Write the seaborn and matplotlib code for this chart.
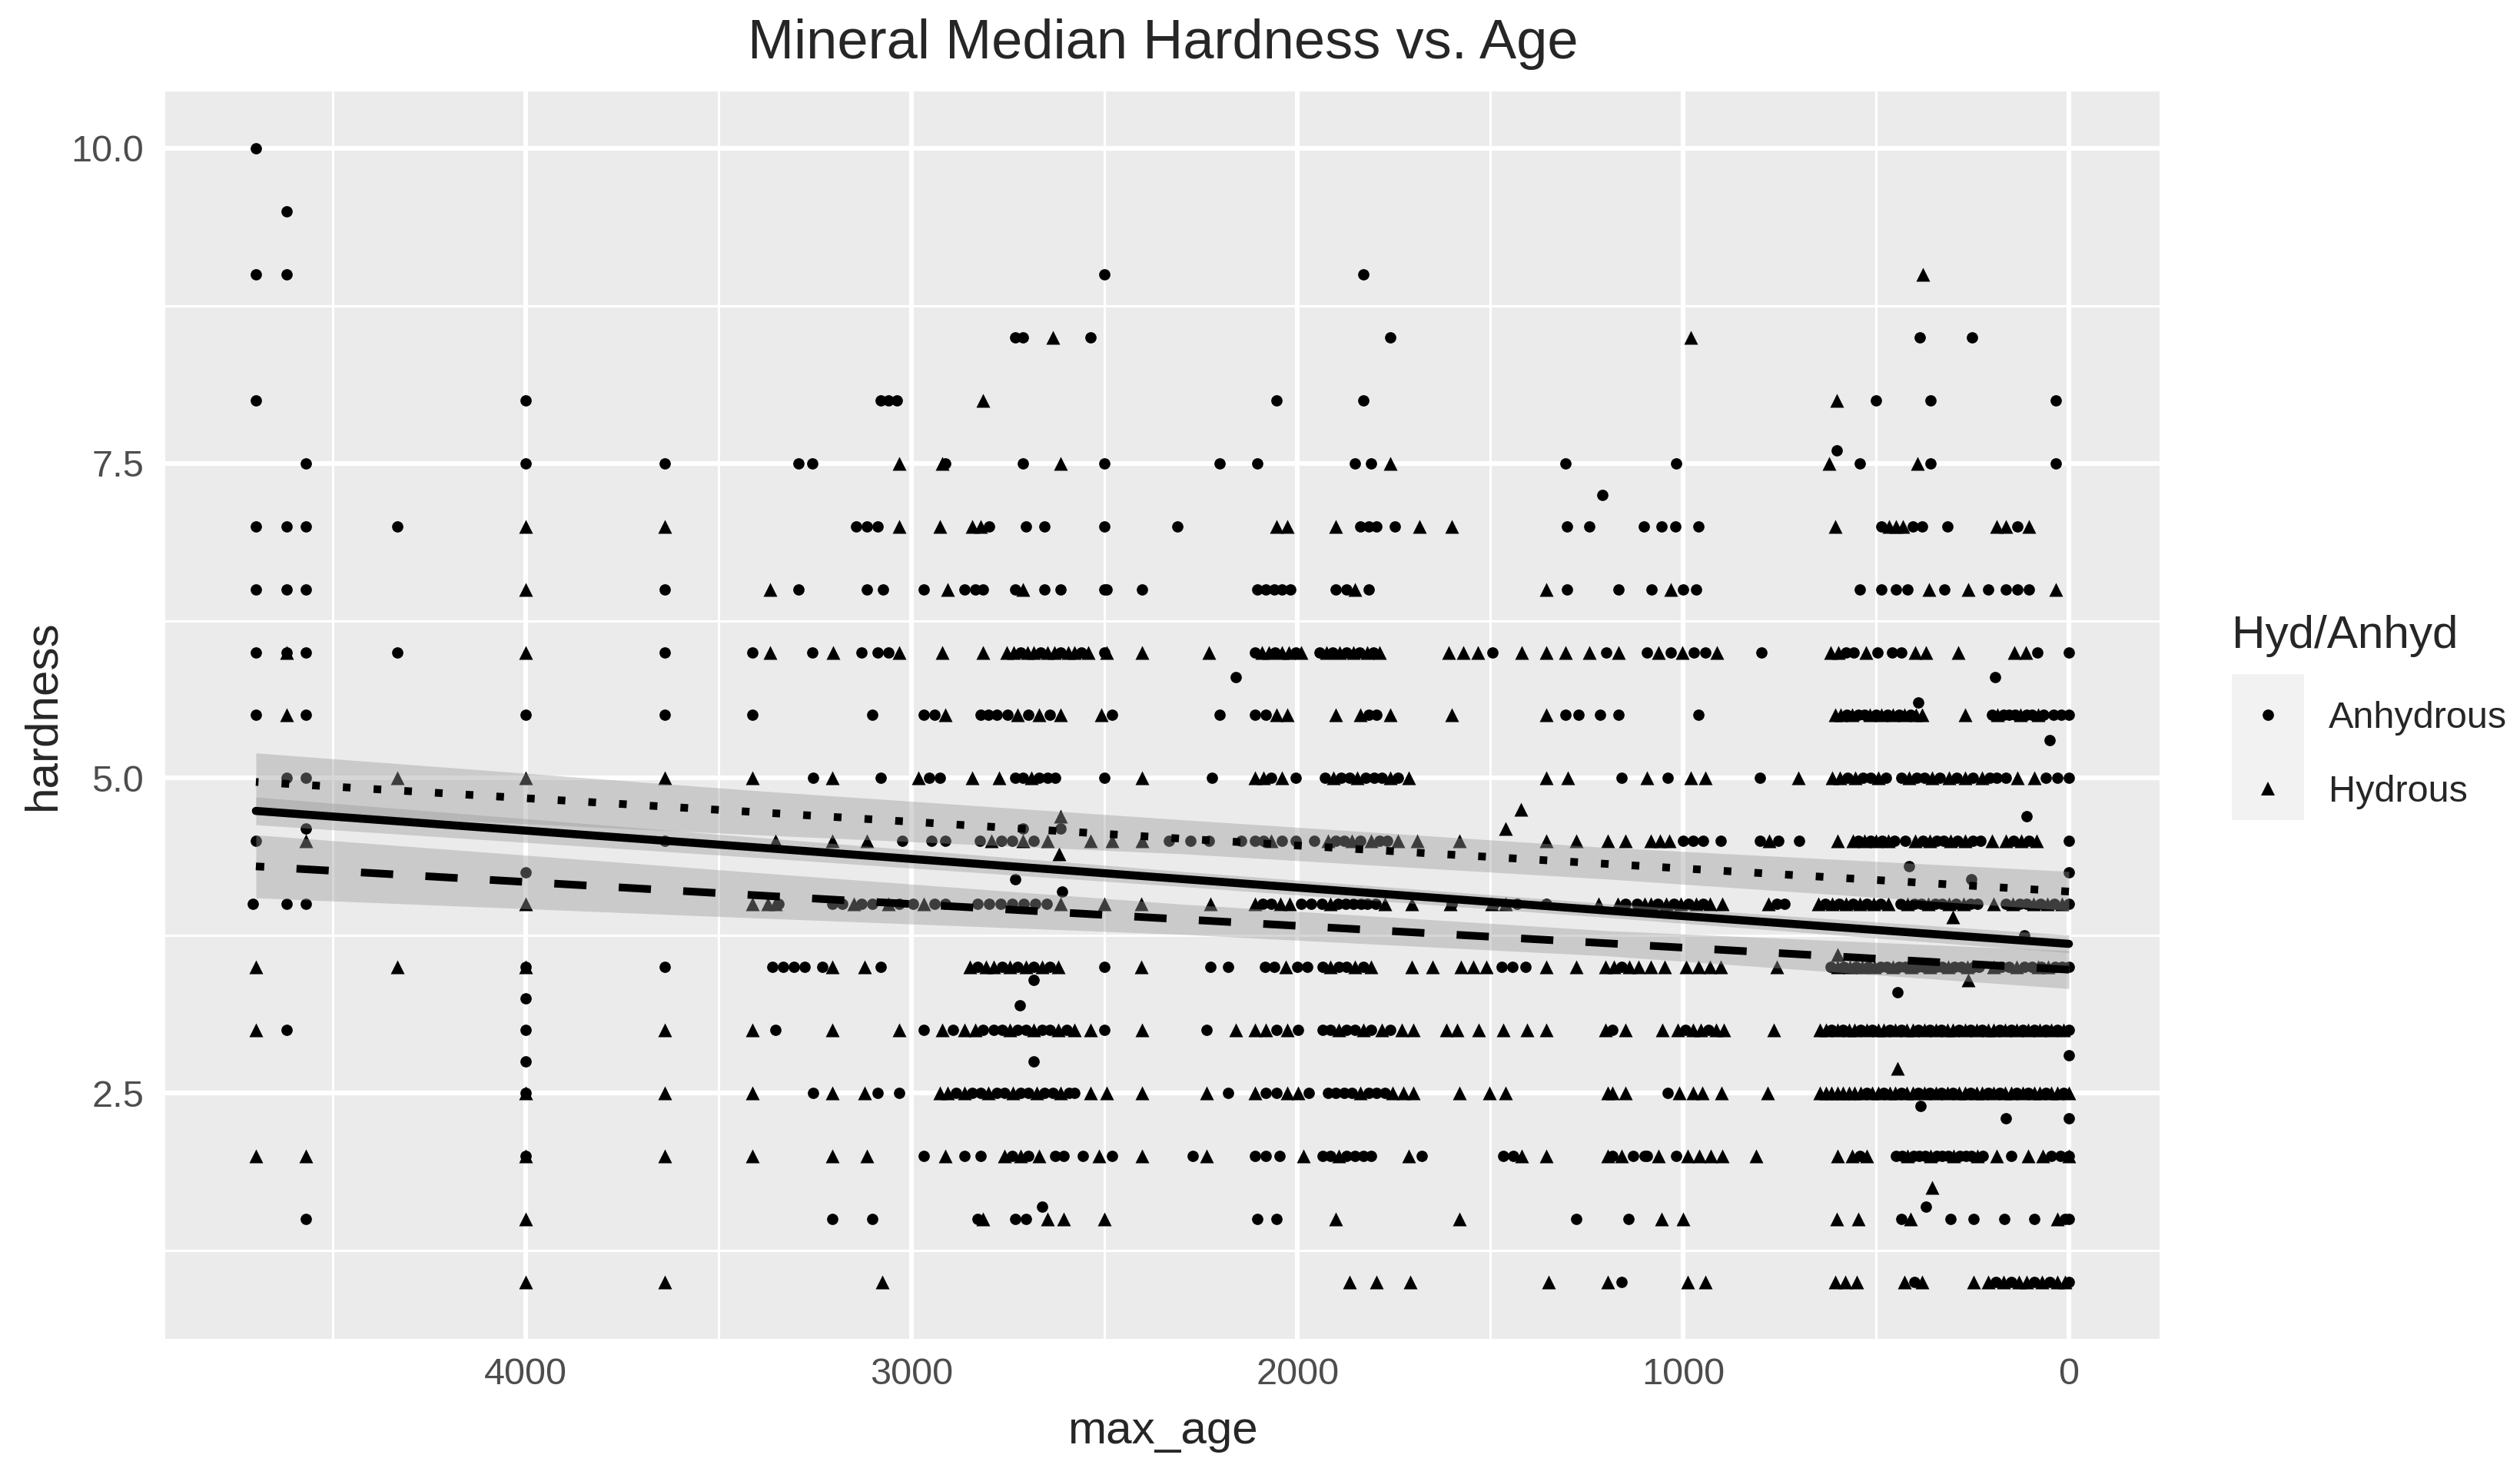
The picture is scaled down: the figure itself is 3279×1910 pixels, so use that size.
import pandas as pd
import matplotlib.pyplot as plt
import seaborn as sns
from matplotlib.lines import Line2D
from matplotlib.patches import Rectangle
from matplotlib.ticker import MultipleLocator

sns.set_theme(style="darkgrid")
plt.rcParams['font.family'] = ['Liberation Sans', 'DejaVu Sans']

# hardness level -> list of max_age values
anhydrous = [
    (10.0, [4700]),
    (9.5, [4620]),
    (9.0, [4700, 4620, 2501, 1830]),
    (8.5, [2732, 2711, 2536, 1760, 386, 251]),
    (8.0, [4700, 4000, 3081, 3060, 3039, 2054, 1830, 501, 359, 34]),
    (7.6, [602]),
    (7.5, [4570, 4000, 3641, 3294, 3257, 2913, 2711, 2501, 2201, 2103, 1851, 1809, 1306, 1018, 542, 359, 34]),
    (7.25, [1209]),
    (7.0, [4700, 4620, 4570, 4333, 3144, 3116, 3088, 2800, 2704, 2655, 2501, 2312, 1837, 1816, 1795, 1747,
           1302, 1243, 1101, 1056, 1021, 961, 486, 405, 380, 314, 134]),
    (6.5, [4700, 4620, 4570, 3641, 3294, 3116, 3074, 2969, 2864, 2836, 2815, 2732, 2655, 2613, 2501, 2495,
           2403, 2103, 2082, 2061, 2040, 2019, 1900, 1872, 1816, 1302, 1168, 1081, 1000, 966, 542, 486, 449,
           419, 322, 209, 164, 134, 104]),
    (6.0, [4700, 4620, 4570, 4333, 3641, 3412, 3257, 3130, 3088, 3060, 2718, 2665, 2613, 2560, 2501, 2110,
           2058, 2005, 1942, 1908, 1872, 1838, 1803, 1495, 1200, 1093, 1033, 973, 943, 797, 577, 557, 497,
           459, 434, 82, 0]),
    (5.8, [2159, 191]),
    (5.6, [390]),
    (5.5, [4700, 4570, 4000, 3641, 3412, 3102, 2969, 2941, 2822, 2801, 2780, 2752, 2697, 2641, 2480, 2201,
           2110, 2082, 1816, 1795, 1306, 1271, 1215, 1168, 961, 576, 546, 531, 501, 471, 441, 411, 200, 170,
           155, 140, 110, 95, 65, 40, 20, 0]),
    (5.3, [50]),
    (5.0, [4620, 4570, 3255, 3081, 2955, 2927, 2732, 2711, 2669, 2648, 2627, 2501, 2222, 2068, 2005, 1928,
           1886, 1865, 1823, 1802, 1781, 1739, 1160, 1040, 801, 574, 534, 514, 474, 434, 394, 374, 334, 290,
           250, 205, 187, 164, 59, 30, 0]),
    (4.7, [110]),
    (4.6, [4570, 2711, 2613]),
    (4.5, [4700, 3641, 3025, 2948, 2913, 2823, 2767, 2739, 2683, 2333, 2278, 2229, 2145, 2110, 2089, 2040,
           2005, 1956, 1900, 1879, 1837, 1788, 1767, 1000, 975, 948, 902, 801, 753, 699, 545, 514, 484, 452,
           425, 378, 342, 324, 288, 250, 229, 143, 103, 0]),
    (4.3, [414]),
    (4.25, [4000, 0]),
    (4.2, [2732, 253]),
    (4.1, [2610]),
    (4.0, [4707, 4621, 4570, 3346, 3205, 3180, 3130, 3102, 3032, 2997, 2941, 2913, 2830, 2800, 2770, 2740,
           2710, 2680, 2650, 2090, 2068, 1990, 1964, 1936, 1895, 1875, 1855, 1834, 1820, 1797, 1600, 1490,
           1430, 1355, 1150, 1120, 1065, 1025, 986, 948, 757, 737, 632, 596, 560, 524, 488, 436, 400, 382,
           346, 328, 292, 256, 238, 163, 127, 109, 73, 37, 0]),
    (3.75, [115]),
    (3.5, [4000, 3641, 3361, 3333, 3305, 3277, 3232, 3081, 2830, 2766, 2725, 2683, 2641, 2501, 2225, 2180,
           2084, 2060, 2000, 1975, 1935, 1893, 1872, 1830, 1470, 1442, 1408, 1160, 617, 584, 552, 520, 488,
           472, 440, 424, 392, 376, 344, 328, 296, 280, 248, 233, 175, 155, 115, 95, 72, 36, 18, 0]),
    (3.4, [2683]),
    (3.3, [444]),
    (3.25, [4000]),
    (3.2, [2720]),
    (3.0, [4620, 4000, 3354, 2969, 2892, 2815, 2787, 2766, 2725, 2704, 2662, 2641, 2599, 2501, 2236, 2054,
           1998, 1935, 1914, 1872, 1851, 1809, 1760, 1183, 995, 935, 615, 585, 540, 510, 465, 435, 390, 360,
           330, 285, 255, 225, 180, 150, 120, 90, 60, 30, 0]),
    (2.8, [0]),
    (2.75, [4000, 2683]),
    (2.5, [4000, 3255, 3088, 3032, 2885, 2843, 2822, 2780, 2759, 2717, 2697, 2655, 2634, 2592, 2578, 2180,
           2082, 2054, 1970, 1921, 1900, 1879, 1858, 1816, 1795, 1774, 1040, 525, 480, 435, 390, 360, 330,
           300, 255, 210, 180, 135, 105, 60, 15]),
    (2.4, [385]),
    (2.3, [164, 0]),
    (2.0, [4000, 2969, 2864, 2822, 2739, 2697, 2627, 2606, 2557, 2480, 2271, 2110, 2082, 2047, 1935, 1914,
           1872, 1851, 1830, 1809, 1677, 1467, 1440, 1183, 1130, 1100, 1093, 1018, 541, 449, 433, 403, 388,
           373, 343, 328, 313, 283, 268, 253, 224, 150, 45, 22, 0]),
    (1.6, [2662, 370]),
    (1.5, [4570, 3205, 3102, 2830, 2732, 2704, 2103, 2054, 1278, 1141, 434, 307, 247, 167, 89, 10, 0]),
    (1.0, [1160, 400, 190, 150, 90, 50, 0]),
]

hydrous = [
    (9.0, [379]),
    (8.5, [2634, 981]),
    (8.0, [2815, 602]),
    (7.5, [3032, 2920, 2613, 1760, 621, 392]),
    (7.0, [4000, 3641, 3032, 2927, 2843, 2822, 2054, 2026, 1900, 1684, 1600, 606, 467, 449, 430, 187, 164, 104]),
    (6.5, [4000, 3368, 2906, 2711, 1851, 1355, 1033, 362, 262, 34]),
    (6.0, [4620, 4000, 3368, 3203, 3032, 2920, 2815, 2753, 2735, 2700, 2683, 2648, 2630, 2595, 2578, 2543,
           2495, 2403, 2229, 2092, 2075, 2040, 2023, 1990, 1925, 1890, 1855, 1820, 1788, 1607, 1570, 1533,
           1418, 1355, 1306, 1243, 1168, 1063, 1003, 913, 617, 597, 527, 399, 370, 287, 142, 112]),
    (5.5, [4620, 2913, 2725, 2669, 2613, 2508, 2054, 2026, 1900, 1837, 1760, 1600, 1355, 606, 591, 561, 516,
           486, 456, 426, 396, 381, 269, 185, 125, 80]),
    (5.0, [4333, 4000, 3641, 3412, 3205, 2983, 2844, 2774, 2690, 2403, 2110, 2089, 2040, 1907, 1844, 1760,
           1711, 1355, 1299, 1093, 981, 943, 701, 614, 594, 554, 494, 414, 354, 310, 270, 225, 134, 89]),
    (4.75, [1421]),
    (4.7, [2613]),
    (4.6, [1460]),
    (4.5, [4570, 3354, 3205, 3116, 2794, 2711, 2648, 2536, 2480, 2403, 2068, 1921, 1858, 1809, 1739, 1690,
           1579, 1355, 1278, 1195, 1150, 1084, 1060, 1036, 777, 600, 560, 530, 500, 468, 398, 360, 306, 270,
           199, 163, 123, 84]),
    (4.4, [2617]),
    (4.0, [4000, 3412, 3374, 3354, 3150, 3060, 2969, 2613, 2501, 2404, 2225, 2110, 2045, 2020, 1915, 1773,
           1703, 1603, 1496, 1460, 1220, 1170, 1100, 1084, 1045, 1006, 966, 930, 898, 779, 649, 614, 578,
           542, 506, 468, 418, 364, 310, 274, 195, 145, 91, 55, 18]),
    (3.9, [300]),
    (3.6, [600]),
    (3.5, [4700, 4333, 4000, 3205, 3123, 2850, 2808, 2787, 2745, 2704, 2662, 2620, 2404, 2030, 1914, 1851,
           1809, 1703, 1650, 1576, 1545, 1510, 1355, 1278, 1202, 1180, 1140, 1115, 1084, 1048, 992, 961, 930,
           902, 757, 600, 568, 536, 504, 456, 408, 360, 312, 264, 195, 135, 80, 54]),
    (3.4, [262]),
    (3.0, [4700, 3641, 3412, 3205, 3032, 2920, 2864, 2836, 2745, 2683, 2620, 2578, 2536, 2403, 2159, 2110,
           2082, 2026, 1893, 1830, 1781, 1730, 1700, 1614, 1586, 1530, 1467, 1404, 1355, 1202, 1150, 1055,
           1014, 975, 955, 915, 895, 765, 645, 630, 600, 570, 555, 525, 495, 480, 450, 420, 405, 375, 345,
           315, 300, 270, 240, 210, 195, 165, 135, 105, 75, 45, 15]),
    (2.7, [445]),
    (2.5, [4000, 3641, 3412, 3205, 3123, 2927, 2906, 2864, 2801, 2738, 2676, 2613, 2536, 2494, 2403, 2236,
           2110, 2026, 1998, 1837, 1753, 1725, 1700, 1579, 1502, 1460, 1195, 1183, 1150, 1010, 975, 950, 900,
           781, 645, 630, 615, 600, 585, 570, 555, 540, 510, 495, 465, 450, 420, 405, 375, 345, 315, 285,
           270, 240, 225, 195, 165, 150, 120, 90, 75, 45, 30, 0]),
    (2.0, [4700, 4570, 4000, 3641, 3412, 3205, 3116, 2913, 2760, 2718, 2669, 2515, 2403, 2236, 1984, 1893,
           1711, 1418, 1355, 1195, 1160, 1063, 988, 958, 928, 898, 811, 599, 561, 524, 418, 358, 298, 238,
           187, 105, 67, 0]),
    (1.75, [355]),
    (1.5, [4000, 2815, 2648, 2606, 2501, 1900, 1579, 1056, 1000, 602, 546, 410, 30]),
    (1.0, [4000, 3641, 3077, 1865, 1795, 1708, 1348, 1195, 988, 943, 606, 580, 550, 427, 380, 247, 210, 170,
           130, 110, 70, 30, 10]),
]

# fitted lines and confidence bands
fit_age = [4700, 3400, 2300, 1200, 0]
fit_all = [4.74, 4.45, 4.20, 3.95, 3.685]
all_lo = [4.63, 4.37, 4.14, 3.895, 3.615]
all_hi = [4.85, 4.53, 4.26, 4.005, 3.755]
fit_anh = [4.97, 4.73, 4.52, 4.32, 4.10]
anh_lo = [4.74, 4.55, 4.40, 4.20, 3.95]
anh_hi = [5.20, 4.90, 4.67, 4.45, 4.26]
fit_hyd = [4.30, 4.07, 3.88, 3.69, 3.48]
hyd_lo = [4.05, 3.89, 3.76, 3.59, 3.33]
hyd_hi = [4.55, 4.25, 4.00, 3.79, 3.63]

rows = []
for h, ages in anhydrous:
    for a in ages:
        rows.append((a, h, 'Anhydrous'))
for h, ages in hydrous:
    for a in ages:
        rows.append((a, h, 'Hydrous'))
df = pd.DataFrame(rows, columns=['max_age', 'hardness', 'kind'])

W, H = 3279, 1910
fig = plt.figure(figsize=(W / 200, H / 200), dpi=200)
fig.patch.set_facecolor('white')
ax = fig.add_axes([215 / W, 1 - 1742 / H, (2810 - 215) / W, (1742 - 119) / H])
ax.set_facecolor('#EBEBEB')

sns.scatterplot(data=df[df.kind == 'Anhydrous'], x='max_age', y='hardness', marker='o', s=28,
                color='black', linewidth=0, ax=ax, zorder=2, legend=False)
sns.scatterplot(data=df[df.kind == 'Hydrous'], x='max_age', y='hardness', marker='^', s=42,
                color='black', linewidth=0, ax=ax, zorder=2, legend=False)

for lo, hi in [(anh_lo, anh_hi), (hyd_lo, hyd_hi), (all_lo, all_hi)]:
    ax.fill_between(fit_age, lo, hi, color='#999999', alpha=0.4, linewidth=0, zorder=3)

sns.lineplot(x=fit_age, y=fit_all, ax=ax, color='black', linewidth=3.8, zorder=4)
sns.lineplot(x=fit_age, y=fit_anh, ax=ax, color='black', linewidth=3.6, linestyle=(0, (1, 3)), zorder=4)
sns.lineplot(x=fit_age, y=fit_hyd, ax=ax, color='black', linewidth=3.6, linestyle=(0, (4.2, 4.2)), zorder=4)

ax.set_xlim(4935, -235)
ax.set_ylim(0.55, 10.45)
ax.xaxis.set_major_locator(MultipleLocator(1000))
ax.xaxis.set_minor_locator(MultipleLocator(500))
ax.yaxis.set_major_locator(MultipleLocator(2.5))
ax.yaxis.set_minor_locator(MultipleLocator(1.25))
ax.grid(which='major', color='white', linewidth=2.2)
ax.grid(which='minor', color='white', linewidth=1.1)
ax.set_axisbelow(True)
for sp in ax.spines.values():
    sp.set_visible(False)
ax.tick_params(which='major', length=5, width=1.3, color='#333333', labelcolor='#4D4D4D', labelsize=17.5)
ax.tick_params(axis='x', pad=3.6)
ax.tick_params(axis='y', pad=5)
ax.tick_params(which='minor', length=0)
ax.set_xlabel('')
ax.set_ylabel('')

fig.text(0.4614, 1 - 76 / H, 'Mineral Median Hardness vs. Age', ha='center', va='baseline', fontsize=26)
fig.text(0.4614, 1 - 1878 / H, 'max_age', ha='center', va='baseline', fontsize=21.7)
fig.text(28 / W, 0.513, 'hardness', rotation=90, ha='left', va='center', fontsize=21.7)

# legend
fig.text(2904 / W, 1 - 843 / H, 'Hyd/Anhyd', ha='left', va='baseline', fontsize=21.7)
for top in (877, 972):
    fig.patches.append(Rectangle((2904 / W, 1 - (top + 95) / H), 94 / W, 95 / H,
                                 transform=fig.transFigure, facecolor='#F2F2F2', edgecolor='none', zorder=0))
handles = [Line2D([], [], marker='o', ls='', color='black', markersize=5.3, markeredgewidth=0),
           Line2D([], [], marker='^', ls='', color='black', markersize=6.5, markeredgewidth=0)]
leg = fig.legend(handles, ['Anhydrous', 'Hydrous'], loc='upper left',
                 bbox_to_anchor=(2904 / W, 1 - 912 / H), frameon=False, fontsize=17.5,
                 handlelength=1.93, handletextpad=0.66, labelspacing=1.05, borderpad=0, borderaxespad=0)

fig.savefig('out.png', dpi=200)
